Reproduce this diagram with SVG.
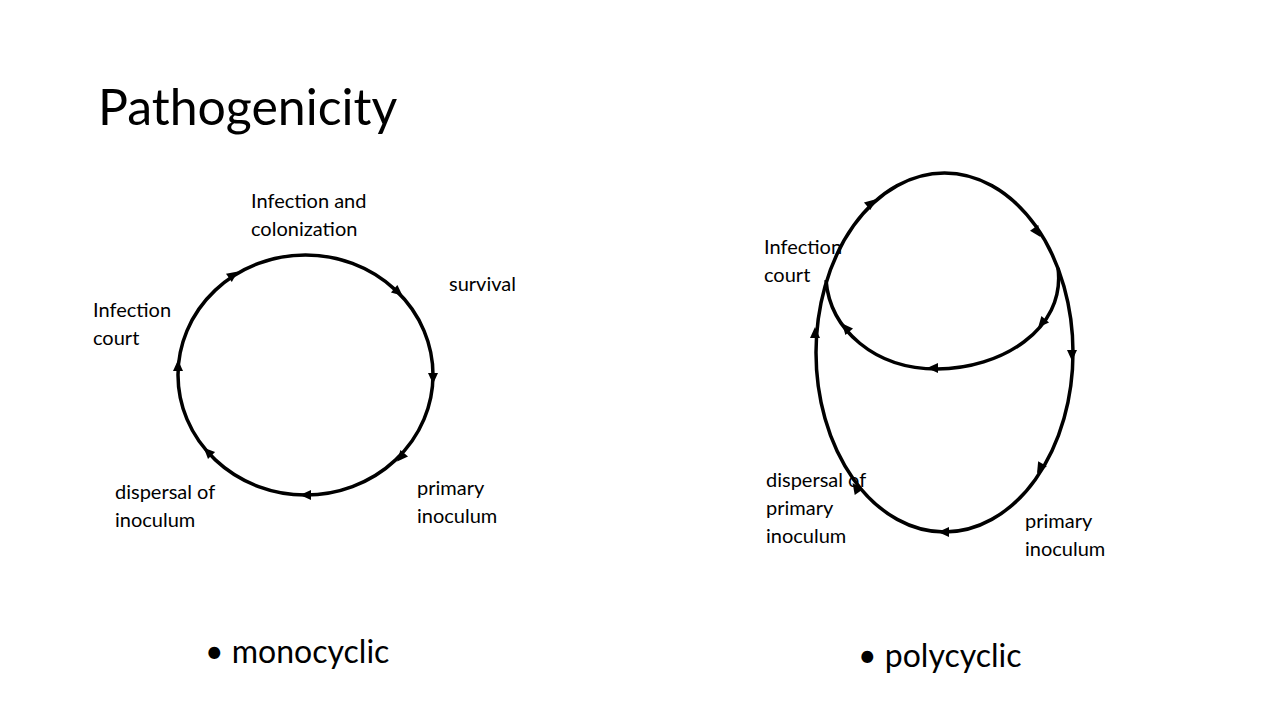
<svg xmlns="http://www.w3.org/2000/svg" xmlns:xlink="http://www.w3.org/1999/xlink" width="1280" height="720" viewBox="0 0 1280 720">
<style>
text{font-family:Lato,"Open Sans",sans-serif;fill:#000}
.l{font-size:20px}
.c{fill:none;stroke:#000;stroke-width:3.5}
</style>
<defs><path id="ah" d="M6,0 L-5,-5 L-5,5 Z" fill="#000"/></defs>
<rect width="1280" height="720" fill="#fff"/>
<text x="98" y="125" font-size="50">Pathogenicity</text>
<g id="connectors">
<ellipse class="c" cx="305.5" cy="375" rx="127.5" ry="120"/>
<ellipse class="c" cx="944.5" cy="352.5" rx="128.5" ry="179.5"/>
<path class="c" d="M1058,268 C1066,330 1000,369 937,369 C875,369 830,330 826,280"/>
<use xlink:href="#ah" transform="translate(233,275) rotate(-35)"/>
<use xlink:href="#ah" transform="translate(398,292) rotate(40)"/>
<use xlink:href="#ah" transform="translate(433,378) rotate(90)"/>
<use xlink:href="#ah" transform="translate(401,457) rotate(130)"/>
<use xlink:href="#ah" transform="translate(306,495) rotate(180)"/>
<use xlink:href="#ah" transform="translate(208,452) rotate(-135)"/>
<use xlink:href="#ah" transform="translate(178,366) rotate(-90)"/>
<use xlink:href="#ah" transform="translate(871,203) rotate(-40)"/>
<use xlink:href="#ah" transform="translate(1037,232) rotate(55)"/>
<use xlink:href="#ah" transform="translate(1072,355) rotate(90)"/>
<use xlink:href="#ah" transform="translate(1040,468) rotate(120)"/>
<use xlink:href="#ah" transform="translate(944,532) rotate(180)"/>
<use xlink:href="#ah" transform="translate(856,488) rotate(-125)"/>
<use xlink:href="#ah" transform="translate(815,333) rotate(-90)"/>
<use xlink:href="#ah" transform="translate(1042,323) rotate(130)"/>
<use xlink:href="#ah" transform="translate(933,368) rotate(180)"/>
<use xlink:href="#ah" transform="translate(846,328) rotate(-130)"/>
</g>
<g id="mono-labels" class="l">
<text class="l" x="251" y="208">Infection and</text><text class="l" x="251" y="236">colonization</text>
<text class="l" x="449" y="291">survival</text>
<text class="l" x="93" y="317">Infection</text><text class="l" x="93" y="345">court</text>
<text class="l" x="115" y="499">dispersal of</text><text class="l" x="115" y="527">inoculum</text>
<text class="l" x="417" y="495">primary</text><text class="l" x="417" y="523">inoculum</text>
</g>
<g id="poly-labels">
<text class="l" x="764" y="254">Infection</text><text class="l" x="764" y="282">court</text>
<text class="l" x="766" y="487">dispersal of</text><text class="l" x="766" y="515">primary</text><text class="l" x="766" y="543">inoculum</text>
<text class="l" x="1025" y="528">primary</text><text class="l" x="1025" y="556">inoculum</text>
</g>
<text x="205" y="663" font-size="32">• monocyclic</text>
<text x="858" y="667" font-size="32">• polycyclic</text>
</svg>
